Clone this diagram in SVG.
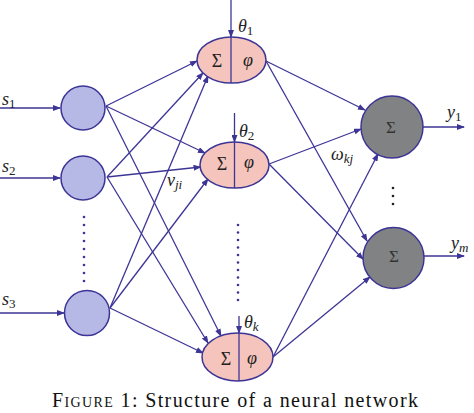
<svg xmlns="http://www.w3.org/2000/svg" width="474" height="413" viewBox="0 0 474 413">
<style>
.ln{stroke:#3d3596;stroke-width:1.3;fill:none}
.arr{marker-end:url(#ah)}
.in{fill:#b6b8e6;stroke:#3d3596;stroke-width:1.5}
.hid{fill:#f5c4bc;stroke:#3d3596;stroke-width:1.5}
.out{fill:#808283;stroke:#3d3596;stroke-width:1.5}
.sym{font-family:"Liberation Serif",serif;font-style:italic;font-size:18px;fill:#222}
.sub{font-family:"Liberation Serif",serif;font-style:normal;font-size:13px;fill:#222}
.isub{font-family:"Liberation Serif",serif;font-style:italic;font-size:13px;fill:#222}
.sig{font-family:"Liberation Serif",serif;font-size:18px;fill:#222;text-anchor:middle}
.phi{font-family:"Liberation Serif",serif;font-style:italic;font-size:18px;fill:#222;text-anchor:middle}
.dot{fill:#3d3596}
.cap{font-family:"Liberation Serif",serif;font-size:20px;fill:#111}
</style>
<defs>
<marker id="ah" markerWidth="8" markerHeight="6" refX="7" refY="3" orient="auto" markerUnits="userSpaceOnUse">
<path d="M0,0 L8,3 L0,6 Z" fill="#3d3596"/>
</marker>
</defs>
<g id="connectors">
<line class="ln arr" x1="0" y1="108" x2="60" y2="108"/>
<line class="ln arr" x1="0" y1="178" x2="60" y2="178"/>
<line class="ln arr" x1="0" y1="313" x2="64" y2="313"/>
<line class="ln arr" x1="231" y1="0" x2="231" y2="37"/>
<line class="ln arr" x1="234.5" y1="113" x2="234.5" y2="142"/>
<line class="ln arr" x1="239" y1="316" x2="239" y2="333"/>
<line class="ln arr" x1="106" y1="106" x2="197" y2="61"/>
<line class="ln arr" x1="106" y1="106" x2="205" y2="153"/>
<line class="ln arr" x1="106" y1="106" x2="221" y2="336"/>
<line class="ln arr" x1="107" y1="177" x2="203" y2="73"/>
<line class="ln arr" x1="107" y1="177" x2="200.5" y2="167"/>
<line class="ln arr" x1="107" y1="177" x2="208" y2="343"/>
<line class="ln arr" x1="110" y1="308" x2="208" y2="76"/>
<line class="ln arr" x1="110" y1="308" x2="208" y2="179"/>
<line class="ln arr" x1="110" y1="308" x2="203" y2="353"/>
<line class="ln arr" x1="266" y1="61" x2="365" y2="110"/>
<line class="ln arr" x1="266" y1="61" x2="367" y2="241"/>
<line class="ln arr" x1="269" y1="164" x2="361" y2="129"/>
<line class="ln arr" x1="269" y1="164" x2="363" y2="259"/>
<line class="ln arr" x1="273" y1="357" x2="378" y2="154"/>
<line class="ln arr" x1="273" y1="357" x2="370" y2="277"/>
<line class="ln arr" x1="423" y1="127" x2="464" y2="127"/>
<line class="ln arr" x1="424" y1="256" x2="464" y2="256"/>
</g>
<g id="input1"><circle class="in" cx="83" cy="108" r="22"/></g>
<g id="input2"><circle class="in" cx="83" cy="178" r="22"/></g>
<g id="input3"><circle class="in" cx="87" cy="313" r="22.5"/></g>
<g id="hidden1">
<ellipse class="hid" cx="231.5" cy="60" rx="34.5" ry="23"/>
<line class="ln" x1="231" y1="37" x2="231" y2="83"/>
<text class="sig" x="217" y="67">Σ</text>
<text class="phi" x="248" y="66">φ</text>
</g>
<g id="hidden2">
<ellipse class="hid" cx="234.5" cy="165" rx="34.5" ry="23"/>
<line class="ln" x1="234.5" y1="142" x2="234.5" y2="188"/>
<text class="sig" x="222" y="170">Σ</text>
<text class="phi" x="249" y="168">φ</text>
</g>
<g id="hidden3">
<ellipse class="hid" cx="237.5" cy="357" rx="35.5" ry="24"/>
<line class="ln" x1="239" y1="333" x2="239" y2="381"/>
<text class="sig" x="226" y="365">Σ</text>
<text class="phi" x="252" y="364">φ</text>
</g>
<g id="output1">
<circle class="out" cx="392" cy="127" r="31"/>
<text class="sig" x="391" y="133" style="fill:#333;font-size:17px">Σ</text>
</g>
<g id="output2">
<circle class="out" cx="393.5" cy="258" r="30.5"/>
<text class="sig" x="394" y="262" style="fill:#333;font-size:17px">Σ</text>
</g>
<g id="dots">
<circle class="dot" cx="84" cy="217" r="1.3"/><circle class="dot" cx="84" cy="225" r="1.3"/><circle class="dot" cx="84" cy="233" r="1.3"/><circle class="dot" cx="84" cy="241" r="1.3"/><circle class="dot" cx="84" cy="249" r="1.3"/><circle class="dot" cx="84" cy="257" r="1.3"/><circle class="dot" cx="84" cy="265" r="1.3"/><circle class="dot" cx="84" cy="273" r="1.3"/><circle class="dot" cx="84" cy="281" r="1.3"/>
<circle class="dot" cx="238" cy="225" r="1.3"/><circle class="dot" cx="238" cy="232.5" r="1.3"/><circle class="dot" cx="238" cy="240" r="1.3"/><circle class="dot" cx="238" cy="247.5" r="1.3"/><circle class="dot" cx="238" cy="255" r="1.3"/><circle class="dot" cx="238" cy="262.5" r="1.3"/><circle class="dot" cx="238" cy="270" r="1.3"/><circle class="dot" cx="238" cy="277.5" r="1.3"/><circle class="dot" cx="238" cy="285" r="1.3"/><circle class="dot" cx="238" cy="292.5" r="1.3"/><circle class="dot" cx="238" cy="300" r="1.3"/>
<circle class="dot" cx="393" cy="188" r="1.3" style="fill:#222"/><circle class="dot" cx="393" cy="196" r="1.3" style="fill:#222"/><circle class="dot" cx="393" cy="204" r="1.3" style="fill:#222"/>
</g>
<g id="labels">
<text class="sym" x="2" y="105">s<tspan class="sub" dy="3">1</tspan></text>
<text class="sym" x="2" y="172">s<tspan class="sub" dy="3">2</tspan></text>
<text class="sym" x="2" y="305">s<tspan class="sub" dy="3">3</tspan></text>
<text class="sym" x="238" y="32">θ<tspan class="sub" dy="3">1</tspan></text>
<text class="sym" x="239" y="137">θ<tspan class="sub" dy="3">2</tspan></text>
<text class="sym" x="244" y="328">θ<tspan class="isub" dy="3">k</tspan></text>
<text class="sym" x="447" y="118">y<tspan class="sub" dy="3">1</tspan></text>
<text class="sym" x="451" y="249">y<tspan class="isub" dy="3">m</tspan></text>
<text class="sym" x="167" y="186">v<tspan class="isub" dy="3">ji</tspan></text>
<text class="sym" x="331" y="160">ω<tspan class="isub" dy="3">kj</tspan></text>
</g>
<text class="cap" x="52" y="407" textLength="366" lengthAdjust="spacing"><tspan style="font-variant:small-caps">Figure</tspan> 1: Structure of a neural network</text>
</svg>
